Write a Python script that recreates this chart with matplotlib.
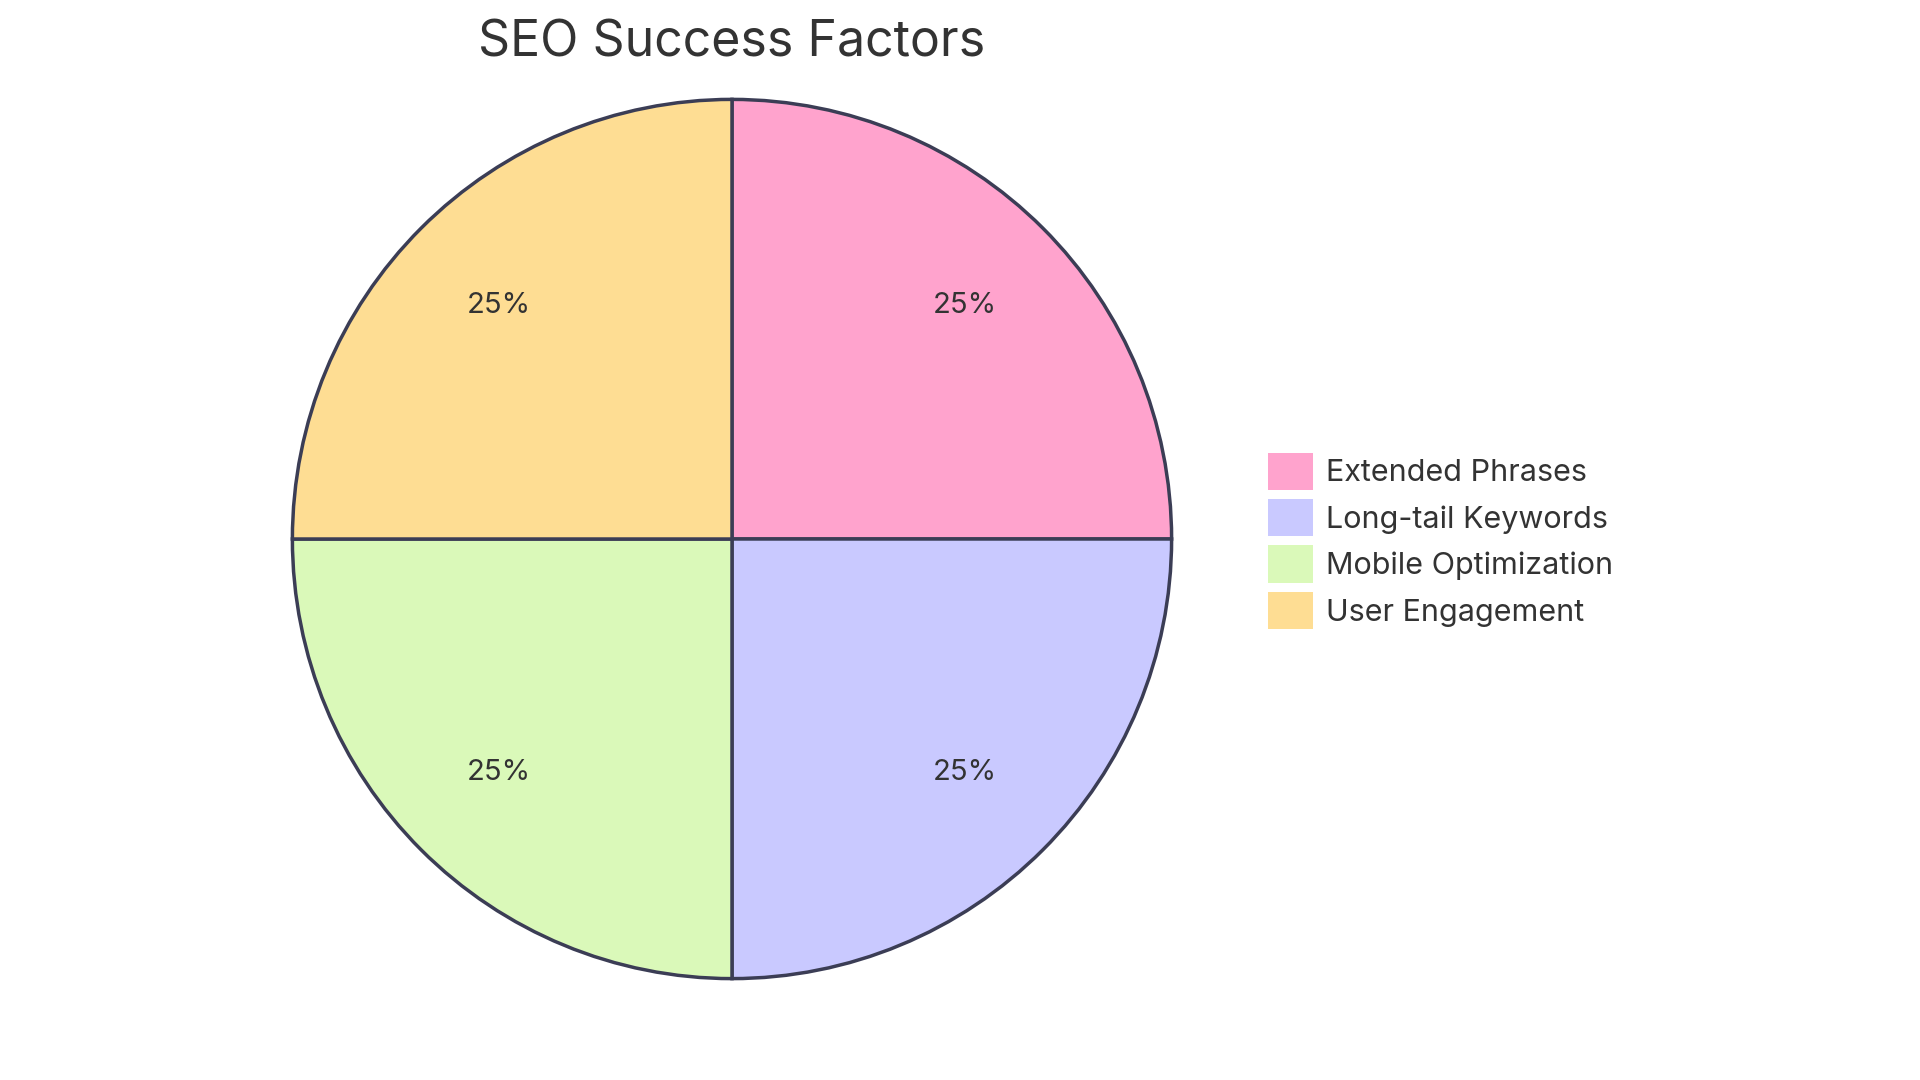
import matplotlib.pyplot as plt
from matplotlib.patches import Patch

plt.rcParams["font.family"] = ["Inter", "DejaVu Sans"]

labels = ["Extended Phrases", "Long-tail Keywords", "Mobile Optimization", "User Engagement"]
values = [25, 25, 25, 25]
colors = ["#FFA3CD", "#C9C9FF", "#DAF9B9", "#FEDD93"]
edge = "#3B3D55"

fig = plt.figure(figsize=(19.2, 10.8), dpi=100)
cx, cy, r = 732, 539, 444
ax = fig.add_axes([(cx - r) / 1920, (1080 - cy - r) / 1080, 2 * r / 1920, 2 * r / 1080])

ax.pie(values, colors=colors, startangle=90, counterclock=False, radius=1,
       autopct="%1.0f%%", pctdistance=0.75,
       wedgeprops=dict(edgecolor=edge, linewidth=2.5),
       textprops=dict(fontsize=21, color="#333333"))
ax.set_xlim(-1.01, 1.01)
ax.set_ylim(-1.01, 1.01)
ax.set_aspect("equal")
ax.axis("off")

fig.text(cx / 1920, 1 - 43 / 1080, "SEO Success Factors", ha="center", va="center",
         fontsize=36, color="#333333")

handles = [Patch(facecolor=c, edgecolor="none") for c in colors]
fig.legend(handles, labels, loc="upper left", bbox_to_anchor=(1240 / 1920, 1 - 425 / 1080),
           frameon=False, fontsize=22, handlelength=1.5, handleheight=1.5,
           handletextpad=0.4, labelspacing=0.3, labelcolor="#333333")

fig.savefig("out.png", dpi=100, facecolor="white")
